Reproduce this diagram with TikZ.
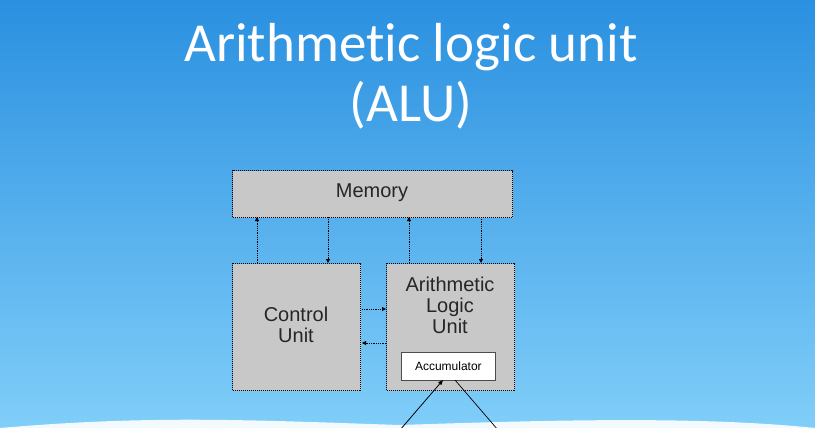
\documentclass[tikz,border=0pt]{standalone}
\usepackage{fontspec}
\setmainfont{Carlito}[Ligatures=NoCommon]
\newfontfamily\arial{Liberation Sans}
\usetikzlibrary{arrows.meta}
\definecolor{bgtop}{HTML}{2A90E0}
\definecolor{bgbot}{HTML}{80CEF9}
\definecolor{boxg}{HTML}{C8C8C8}
\tikzset{
  blk/.style={draw=black, densely dotted, fill=boxg, line width=1pt},
  con/.style={densely dotted, line width=0.8pt, -{Triangle[length=4pt,width=4pt]}},
  lbl/.style={font=\arial\fontsize{20}{21}\selectfont, text=black!85, align=center}
}
\begin{document}
\begin{tikzpicture}[x=1pt,y=-1pt]
\useasboundingbox (0,0) rectangle (815,428);
\shade[top color=bgtop, bottom color=bgbot] (0,0) rectangle (815,428);
\fill[white, opacity=0.9] (0,428) .. controls (150,415) and (250,420) .. (400,425) .. controls (550,420) and (700,416) .. (815,428) -- cycle;
\node[text=white, font=\fontsize{55}{60}\selectfont, align=center] (title) at (411,76) {Arithmetic logic unit\\(ALU)};
\node[blk, minimum width=280, minimum height=47, anchor=north west] (mem) at (232,170) {};
\node[lbl] (memt) at (372,193) {Memory};
\node[blk, minimum width=128, minimum height=127, anchor=north west] (cu) at (232,263) {};
\node[lbl] (cut) at (296,325) {Control\\Unit};
\node[blk, minimum width=128, minimum height=127, anchor=north west] (alu) at (386,263) {};
\node[lbl] (alut) at (450,305) {Arithmetic\\Logic\\Unit};
\node[draw=black!70, fill=white, line width=0.8pt, minimum width=94, minimum height=28, anchor=north west, font=\arial\fontsize{12}{14}\selectfont] (acc) at (401,352) {Accumulator};
\coordinate (a1) at (257,263); \coordinate (a1m) at (257,217);
\coordinate (a2m) at (328,217); \coordinate (a2) at (328,263);
\coordinate (a3) at (409,263); \coordinate (a3m) at (409,217);
\coordinate (a4m) at (481,217); \coordinate (a4) at (481,263);
\draw[con] (a1) -- (a1m);
\draw[con] (a2m) -- (a2);
\draw[con] (a3) -- (a3m);
\draw[con] (a4m) -- (a4);
\coordinate (h1) at (362,309); \coordinate (h1e) at (386,309);
\coordinate (h2) at (386,343); \coordinate (h2e) at (362,343);
\draw[con] (h1) -- (h1e);
\draw[con] (h2) -- (h2e);
\coordinate (b1) at (400,430); \coordinate (b1e) at (443,380);
\coordinate (b2) at (455,380); \coordinate (b2e) at (498,430);
\draw[line width=0.8pt, -{Triangle[length=5pt,width=4pt]}] (b1) -- (b1e);
\draw[line width=0.7pt] (b2) -- (b2e);
\end{tikzpicture}
\end{document}
